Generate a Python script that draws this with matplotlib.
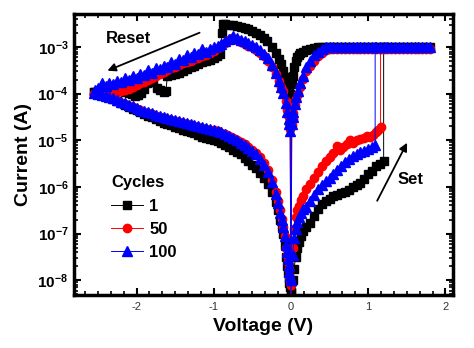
import numpy as np
import matplotlib.pyplot as plt
from matplotlib.ticker import FixedLocator, AutoMinorLocator, LogLocator, FuncFormatter, NullFormatter

plt.rcParams['font.family'] = ['Liberation Sans', 'DejaVu Sans']
plt.rcParams['mathtext.fontset'] = 'custom'
plt.rcParams['mathtext.rm'] = 'Liberation Sans'
plt.rcParams['mathtext.bf'] = 'Liberation Sans:bold'

cycles = ['1', '50', '100']
colors = ['black', 'red', 'blue']
markers = ['s', 'o', '^']

# positive sweep, high resistance state (set branch)
v_set_1 = [0.00, 0.02, 0.04, 0.06, 0.08, 0.10, 0.13, 0.16, 0.20, 0.25, 0.30, 0.35, 0.40, 0.45, 0.50,
           0.55, 0.60, 0.65, 0.70, 0.75, 0.80, 0.85, 0.90, 0.95, 1.00, 1.05, 1.10, 1.15, 1.20]
lg_set_1 = [-8.25, -8.0, -7.75, -7.5, -7.32, -7.18, -7.05, -6.95, -6.87, -6.78, -6.62, -6.48, -6.36, -6.3, -6.25,
            -6.2, -6.18, -6.14, -6.1, -6.06, -6.0, -5.96, -5.92, -5.82, -5.72, -5.65, -5.56, -5.5, -5.45]
v_set_50 = [0.00, 0.02, 0.04, 0.06, 0.08, 0.10, 0.13, 0.16, 0.20, 0.25, 0.30, 0.35, 0.40, 0.45, 0.50, 0.55,
            0.59, 0.63, 0.67, 0.72, 0.76, 0.80, 0.85, 0.90, 0.95, 0.98, 1.02, 1.06, 1.10, 1.13, 1.16]
lg_set_50 = [-8.1, -7.3, -6.9, -6.65, -6.5, -6.4, -6.28, -6.2, -6.05, -5.93, -5.8, -5.68, -5.55, -5.45, -5.36, -5.28,
             -5.12, -5.2, -5.15, -5.08, -5.0, -5.06, -5.0, -4.97, -4.95, -4.9, -4.93, -4.88, -4.82, -4.78, -4.72]
v_set_100 = [0.00, 0.02, 0.04, 0.06, 0.08, 0.10, 0.13, 0.16, 0.20, 0.25, 0.30, 0.35, 0.40, 0.45,
             0.50, 0.55, 0.60, 0.65, 0.70, 0.75, 0.80, 0.85, 0.90, 0.95, 1.00, 1.05, 1.09]
lg_set_100 = [-8.0, -7.45, -7.1, -6.9, -6.75, -6.65, -6.55, -6.48, -6.43, -6.3, -6.17, -6.05, -5.95, -5.87,
              -5.8, -5.72, -5.63, -5.55, -5.46, -5.4, -5.34, -5.3, -5.26, -5.22, -5.18, -5.14, -5.1]

# compliance plateau (sweep back from the top voltage)
v_flat = [1.80, 1.75, 1.70, 1.65, 1.60, 1.55, 1.50, 1.45, 1.40, 1.35, 1.30, 1.25, 1.20, 1.15, 1.10,
          1.05, 1.00, 0.95, 0.90, 0.85, 0.80, 0.75, 0.70, 0.65, 0.60, 0.55, 0.50, 0.45, 0.40]
cc_level = [-2.99, -3.04, -3.0]
knee_v = [0.40, 0.50, 0.45]

# low resistance state, through 0 V up to the reset peak
v_lrs_1 = [0.35, 0.30, 0.25, 0.20, 0.15, 0.12, 0.10, 0.08, 0.06, 0.04, 0.02, 0.01, 0.00, -0.01, -0.02, -0.04, -0.06, -0.08,
           -0.10, -0.13, -0.16, -0.20, -0.25, -0.31, -0.35, -0.40, -0.45, -0.50, -0.55, -0.60, -0.65, -0.70, -0.75, -0.80, -0.85, -0.88]
lg_lrs_1 = [-3.0, -3.02, -3.04, -3.07, -3.1, -3.13, -3.17, -3.22, -3.3, -3.42, -3.62, -3.8, -9.0, -4.0, -3.95, -3.9, -3.8, -3.65,
            -3.52, -3.36, -3.25, -3.12, -3.0, -2.88, -2.81, -2.75, -2.7, -2.66, -2.62, -2.6, -2.58, -2.55, -2.53, -2.52, -2.5, -2.5]
v_lrs_50 = [0.45, 0.40, 0.35, 0.30, 0.25, 0.20, 0.16, 0.12, 0.09, 0.07, 0.05, 0.03, 0.02, 0.01, 0.00, -0.01, -0.02, -0.03,
            -0.05, -0.07, -0.10, -0.13, -0.16, -0.20, -0.25, -0.30, -0.35, -0.40, -0.45, -0.50, -0.55, -0.60, -0.65, -0.70, -0.76]
lg_lrs_50 = [-3.07, -3.12, -3.2, -3.3, -3.4, -3.52, -3.68, -3.85, -4.0, -4.12, -4.25, -4.42, -4.55, -4.68, -9.0, -4.75, -4.62, -4.5,
             -4.35, -4.15, -3.95, -3.85, -3.72, -3.58, -3.42, -3.3, -3.2, -3.12, -3.06, -3.01, -2.97, -2.93, -2.89, -2.85, -2.81]
v_lrs_100 = [0.40, 0.35, 0.30, 0.25, 0.20, 0.16, 0.12, 0.09, 0.07, 0.05, 0.03, 0.02, 0.01, 0.00, -0.01, -0.02, -0.03,
             -0.05, -0.07, -0.10, -0.13, -0.16, -0.20, -0.25, -0.30, -0.35, -0.40, -0.45, -0.50, -0.55, -0.60, -0.65, -0.70, -0.75]
lg_lrs_100 = [-3.04, -3.1, -3.18, -3.3, -3.43, -3.62, -3.78, -3.95, -4.08, -4.22, -4.4, -4.5, -4.65, -9.0, -4.8, -4.65, -4.55,
              -4.4, -4.2, -3.98, -3.86, -3.72, -3.56, -3.38, -3.24, -3.14, -3.07, -3.01, -2.96, -2.92, -2.88, -2.84, -2.8, -2.76]

# reset branch down to -2.55 V
v_rst_1 = [-0.89, -0.92, -0.96, -1.0, -1.05, -1.1, -1.15, -1.2, -1.25, -1.3, -1.35, -1.4, -1.45, -1.5, -1.55, -1.6, -1.62, -1.65, -1.7,
           -1.74, -1.78, -1.82, -1.86, -1.9, -1.94, -1.98, -2.02, -2.06, -2.1, -2.15, -2.2, -2.25, -2.3, -2.35, -2.4, -2.45, -2.5, -2.55]
lg_rst_1 = [-2.7, -3.15, -3.2, -3.24, -3.27, -3.3, -3.33, -3.36, -3.4, -3.43, -3.48, -3.52, -3.55, -3.58, -3.6, -3.63, -3.94, -3.97, -3.93,
            -3.88, -3.76, -3.74, -3.78, -3.9, -3.98, -4.03, -4.04, -4.0, -3.98, -3.96, -3.95, -3.93, -3.93, -3.92, -3.93, -3.94, -3.95, -3.97]
v_rst_50 = [-0.80, -0.85, -0.90, -0.95, -1.00, -1.05, -1.10, -1.15, -1.20, -1.25, -1.30, -1.35, -1.40, -1.45, -1.50, -1.55, -1.60, -1.65,
            -1.70, -1.75, -1.80, -1.85, -1.90, -1.95, -2.00, -2.05, -2.10, -2.15, -2.20, -2.25, -2.30, -2.35, -2.40, -2.45, -2.50, -2.55]
lg_rst_50 = [-2.86, -2.92, -2.98, -3.03, -3.08, -3.13, -3.17, -3.2, -3.23, -3.26, -3.29, -3.32, -3.35, -3.38, -3.42, -3.46, -3.5, -3.54,
             -3.58, -3.62, -3.66, -3.7, -3.74, -3.78, -3.82, -3.86, -3.9, -3.93, -3.95, -3.96, -3.97, -3.97, -3.98, -3.98, -3.99, -4.0]
v_rst_100 = [-0.80, -0.85, -0.90, -0.95, -1.00, -1.05, -1.10, -1.15, -1.20, -1.25, -1.30, -1.35, -1.40, -1.45, -1.50, -1.55, -1.60, -1.65,
             -1.70, -1.75, -1.80, -1.85, -1.90, -1.95, -2.00, -2.05, -2.10, -2.15, -2.20, -2.25, -2.30, -2.35, -2.40, -2.45, -2.50, -2.54]
lg_rst_100 = [-2.82, -2.88, -2.93, -2.97, -3.0, -3.04, -3.1, -3.05, -3.14, -3.12, -3.22, -3.18, -3.28, -3.26, -3.36, -3.32, -3.42, -3.4,
              -3.48, -3.45, -3.55, -3.5, -3.6, -3.57, -3.66, -3.62, -3.7, -3.66, -3.75, -3.72, -3.8, -3.77, -3.84, -3.78, -3.88, -3.92]

# back to 0 V in the high resistance state
v_back = [-2.55, -2.50, -2.45, -2.40, -2.35, -2.30, -2.25, -2.20, -2.15, -2.10,
          -2.05, -2.00, -1.95, -1.90, -1.85, -1.80, -1.75, -1.70, -1.65, -1.60,
          -1.55, -1.50, -1.45, -1.40, -1.35, -1.30, -1.25, -1.20, -1.15, -1.10,
          -1.05, -1.00, -0.95, -0.90, -0.85, -0.80, -0.75, -0.70, -0.65, -0.60,
          -0.55, -0.50, -0.45, -0.40, -0.35, -0.30, -0.25, -0.20, -0.17, -0.14,
          -0.12, -0.10, -0.08, -0.06, -0.05, -0.04, -0.03, -0.02, -0.01, 0.00]
lg_back_1 = [-3.97, -4.00, -4.02, -4.05, -4.08, -4.12, -4.16, -4.20, -4.24, -4.28,
             -4.32, -4.36, -4.40, -4.44, -4.47, -4.50, -4.54, -4.58, -4.62, -4.65,
             -4.68, -4.71, -4.74, -4.77, -4.80, -4.83, -4.85, -4.88, -4.92, -4.95,
             -4.97, -5.00, -5.02, -5.05, -5.10, -5.15, -5.20, -5.25, -5.30, -5.37,
             -5.44, -5.52, -5.60, -5.70, -5.80, -5.94, -6.10, -6.32, -6.50, -6.70,
             -6.85, -7.00, -7.25, -7.50, -7.70, -7.85, -7.95, -8.05, -8.15, -8.25]
lg_back_50 = [-4.00, -4.02, -4.04, -4.06, -4.09, -4.12, -4.15, -4.19, -4.22, -4.26,
              -4.29, -4.33, -4.36, -4.39, -4.42, -4.44, -4.47, -4.49, -4.52, -4.54,
              -4.57, -4.59, -4.61, -4.63, -4.65, -4.67, -4.69, -4.71, -4.73, -4.75,
              -4.77, -4.79, -4.81, -4.84, -4.87, -4.91, -4.95, -5.00, -5.04, -5.09,
              -5.14, -5.20, -5.27, -5.36, -5.48, -5.64, -5.85, -6.10, -6.30, -6.50,
              -6.68, -6.85, -7.05, -7.30, -7.45, -7.60, -7.75, -7.90, -8.00, -8.10]
lg_back_100 = [-3.98, -4.00, -4.02, -4.04, -4.07, -4.10, -4.13, -4.17, -4.20, -4.24,
               -4.27, -4.31, -4.34, -4.37, -4.40, -4.42, -4.45, -4.47, -4.50, -4.52,
               -4.55, -4.57, -4.59, -4.61, -4.63, -4.65, -4.67, -4.69, -4.71, -4.73,
               -4.75, -4.77, -4.80, -4.83, -4.86, -4.90, -4.95, -5.00, -5.05, -5.10,
               -5.16, -5.22, -5.30, -5.40, -5.52, -5.68, -5.90, -6.15, -6.35, -6.55,
               -6.70, -6.86, -7.05, -7.25, -7.40, -7.55, -7.70, -7.82, -7.92, -8.00]

sets = [(v_set_1, lg_set_1), (v_set_50, lg_set_50), (v_set_100, lg_set_100)]
lrss = [(v_lrs_1, lg_lrs_1), (v_lrs_50, lg_lrs_50), (v_lrs_100, lg_lrs_100)]
rsts = [(v_rst_1, lg_rst_1), (v_rst_50, lg_rst_50), (v_rst_100, lg_rst_100)]
backs = [lg_back_1, lg_back_50, lg_back_100]

x_ticks = [-2, -1, 0, 1, 2]
y_ticks = [1e-8, 1e-7, 1e-6, 1e-5, 1e-4, 1e-3]

# ---- figure ----
fig = plt.figure(figsize=(4.74, 3.48), dpi=100)
ax = fig.add_axes([0.156, 0.152, 0.80, 0.808])

msizes = [5.5, 6, 6.5]
for k in range(3):
    vs, ls = sets[k]
    flat = [x for x in v_flat if x >= knee_v[k]]
    v_cc = [vs[-1]] + flat
    lg_cc = [cc_level[k]] * len(v_cc)
    v = np.concatenate([vs, v_cc, lrss[k][0], rsts[k][0], v_back])
    lg = np.concatenate([ls, lg_cc, lrss[k][1], rsts[k][1], backs[k]])
    ax.plot(v, 10 ** lg, '-', color=colors[k], lw=0.7, marker=markers[k], ms=msizes[k],
            mec=colors[k], mfc=colors[k], label=cycles[k])

ax.set_yscale('log')
ax.set_xlim(-2.81, 2.10)
ax.set_ylim(10 ** -8.32, 10 ** -2.29)

# ticks
ax.xaxis.set_major_locator(FixedLocator(x_ticks))
ax.xaxis.set_minor_locator(AutoMinorLocator(6))
ax.xaxis.set_major_formatter(FuncFormatter(lambda x, p: '%d' % round(x)))
ax.yaxis.set_major_locator(FixedLocator(y_ticks))
ax.yaxis.set_minor_locator(LogLocator(base=10, subs=np.arange(2, 10), numticks=20))
ax.yaxis.set_minor_formatter(NullFormatter())
ax.yaxis.set_major_formatter(FuncFormatter(lambda y, p: r'$\mathbf{10^{%d}}$' % round(np.log10(y))))
ax.tick_params(which='both', direction='in', top=True, right=True)
ax.tick_params(which='major', length=5, width=1.5)
ax.tick_params(which='minor', length=3, width=1.2)
ax.tick_params(axis='x', labelsize=8, labelcolor='#333333', pad=5)
ax.tick_params(axis='y', labelsize=11, pad=4)
for s in ax.spines.values():
    s.set_linewidth(2.5)

ax.set_xlabel('Voltage (V)', fontsize=14, fontweight='bold', labelpad=4)
ax.set_ylabel('Current (A)', fontsize=14, fontweight='bold', labelpad=4)

# arrows and labels
ax.annotate('', xy=(-2.41, 10 ** -3.53), xytext=(-1.15, 10 ** -2.67),
            arrowprops=dict(arrowstyle='-|>', color='black', lw=1.3, mutation_scale=12))
ax.text(-2.10, 10 ** -2.81, 'Reset', fontsize=12, fontweight='bold', ha='center', va='center')
ax.annotate('', xy=(1.52, 10 ** -5.0), xytext=(1.10, 10 ** -6.35),
            arrowprops=dict(arrowstyle='-|>', color='black', lw=1.3, mutation_scale=12))
ax.text(1.55, 10 ** -5.85, 'Set', fontsize=12, fontweight='bold', ha='center', va='center')

leg = ax.legend(title='Cycles', loc='upper left', bbox_to_anchor=(0.08, 0.45), frameon=False,
                prop={'size': 12, 'weight': 'bold'}, handlelength=1.9, labelspacing=0.5,
                handletextpad=0.4, borderaxespad=0)
leg.get_title().set_fontweight('bold')
leg.get_title().set_fontsize(12)
leg._legend_box.align = 'left'

fig.savefig('out.png', dpi=100)
